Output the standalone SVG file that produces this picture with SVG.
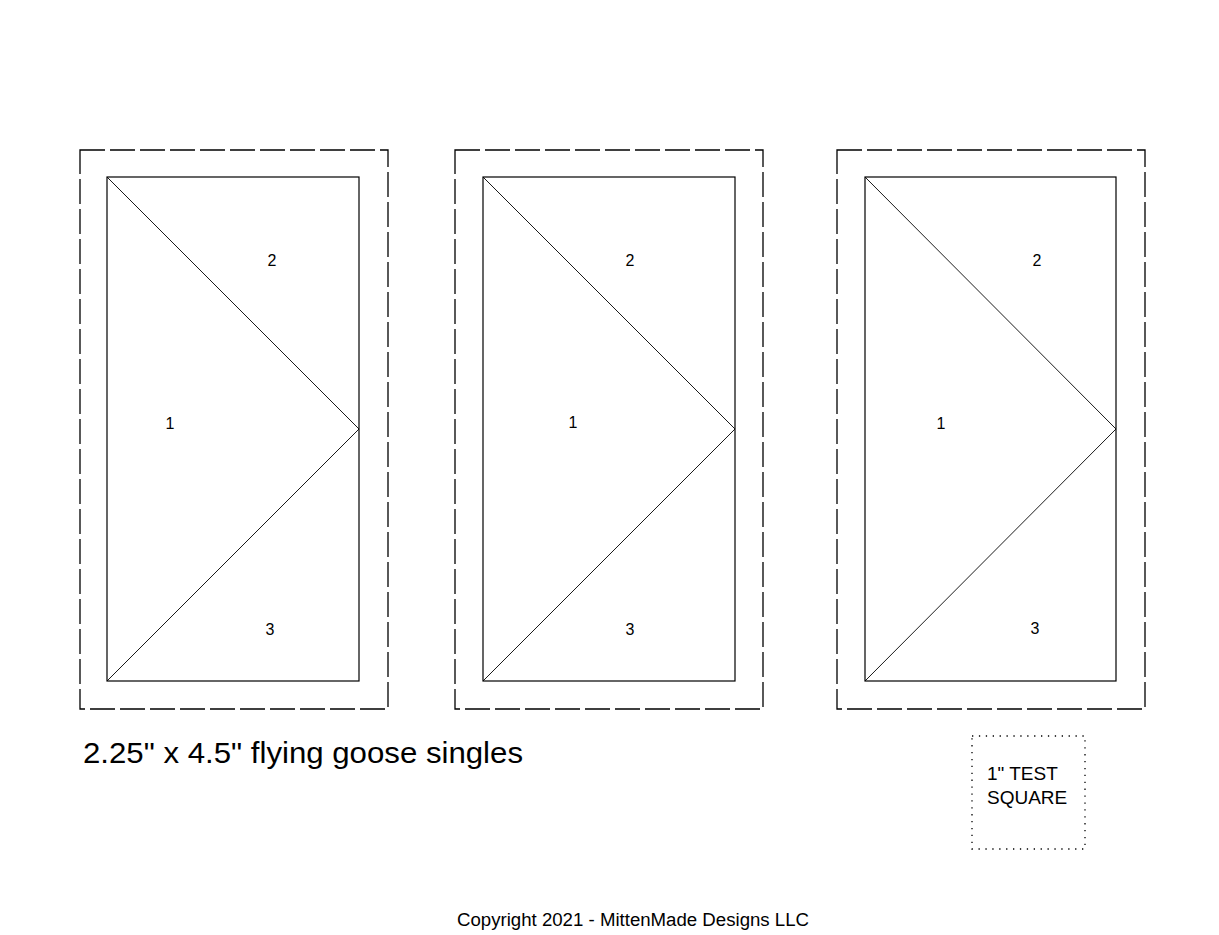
<svg xmlns="http://www.w3.org/2000/svg" width="1219" height="935" viewBox="0 0 1219 935">
<style>
.outer{fill:none;stroke:#000;stroke-width:1.3;stroke-dasharray:25 5}
.inner{fill:none;stroke:#000;stroke-width:1.2}
.diag{fill:none;stroke:#000;stroke-width:0.9}
.num{font-family:"Liberation Sans",Arial,sans-serif;font-size:16px;fill:#000;text-anchor:middle}
.txt{font-family:"Liberation Sans",Arial,sans-serif;fill:#000}
.dot{fill:none;stroke:#000;stroke-width:1.3;stroke-dasharray:1.3 5.6}
</style>
<rect width="1219" height="935" fill="#fff"/>
<g id="block1">
<rect class="outer" x="80" y="150" width="308" height="559"/>
<rect class="inner" x="107" y="177" width="252" height="504"/>
<polyline class="diag" points="107,177 359,429 107,681"/>
<text class="num" x="272" y="266">2</text>
<text class="num" x="170" y="429">1</text>
<text class="num" x="270" y="635">3</text>
</g>
<g id="block2">
<rect class="outer" x="455" y="150" width="308" height="559"/>
<rect class="inner" x="483" y="177" width="252" height="504"/>
<polyline class="diag" points="483,177 735,429 483,681"/>
<text class="num" x="630" y="266">2</text>
<text class="num" x="573" y="428">1</text>
<text class="num" x="630" y="635">3</text>
</g>
<g id="block3">
<rect class="outer" x="837" y="150" width="308" height="559"/>
<rect class="inner" x="865" y="177" width="251" height="504"/>
<polyline class="diag" points="865,177 1116,429 865,681"/>
<text class="num" x="1037" y="266">2</text>
<text class="num" x="941" y="429">1</text>
<text class="num" x="1035" y="634">3</text>
</g>
<g id="connectors"></g>
<g id="test-square">
<rect class="dot" x="972" y="736" width="113" height="113"/>
<text class="txt" x="987" y="780" font-size="19">1" TEST</text>
<text class="txt" x="987" y="804" font-size="19">SQUARE</text>
</g>
<text class="txt" x="83" y="763" font-size="30" textLength="440" lengthAdjust="spacingAndGlyphs">2.25" x 4.5" flying goose singles</text>
<text class="txt" x="457" y="926" font-size="18" textLength="352" lengthAdjust="spacingAndGlyphs">Copyright 2021 - MittenMade Designs LLC</text>
</svg>
